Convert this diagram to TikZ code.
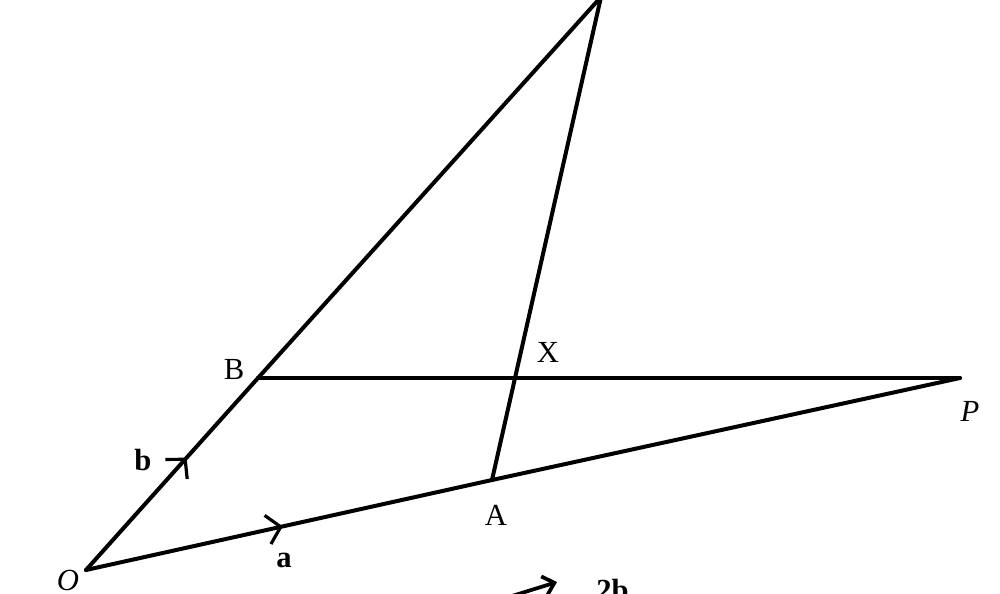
\documentclass[tikz,border=0pt]{standalone}
\usepackage{fontspec}
\setmainfont{Liberation Serif}
\usetikzlibrary{arrows.meta,decorations.markings}
\tikzset{
  edge/.style={line width=3pt, line cap=round, line join=round},
  midarrow/.style={postaction={decorate, decoration={markings,
      mark=at position #1 with {\arrow[line width=2.4pt]{Straight Barb[length=10pt, width=22pt]}}}}},
  lbl/.style={font=\fontsize{23}{27}\selectfont, inner sep=0pt}
}
\begin{document}
\begin{tikzpicture}[x=0.75pt,y=0.75pt,yscale=-1,xscale=1]
\useasboundingbox (0,0) rectangle (1000,593);
\clip (0,0) rectangle (1000,593);

% points
\coordinate (O) at (86,570);
\coordinate (B) at (258,378);
\coordinate (C) at (601,-3);
\coordinate (P) at (960,378);
\coordinate (A) at (492,480);
\coordinate (X) at (515.5,378);

%Straight Lines O to C through B
\draw [edge, midarrow=0.585] (O) -- (B);
\draw [edge] (B) -- (C);
%Straight Lines O to P through A
\draw [edge, midarrow=0.485] (O) -- (A);
\draw [edge] (A) -- (P);
%Straight Lines B to P
\draw [edge] (B) -- (P);
%Straight Lines C to A
\draw [edge] (C) -- (A);

% Text Node
\node [lbl] (lO) at (68,580) {\textit{O}};
\node [lbl] (lB) at (234,369) {B};
\node [lbl] (lX) at (548,352) {X};
\node [lbl] (lA) at (496,515) {A};
\node [lbl] (lP) at (970,411) {\textit{P}};
\node [lbl] (lb) at (143,460) {\textbf{b}};
\node [lbl] (la) at (284,560) {\textbf{a}};

% partial line below
\coordinate (s) at (512,596);
\coordinate (e) at (557,582);
\draw [line width=2.8pt, -{Straight Barb[length=8pt, width=15pt]}] (s) -- (e);
\node [lbl, anchor=north west] (l2b) at (596,579) {\textbf{2b}};

\end{tikzpicture}
\end{document}
